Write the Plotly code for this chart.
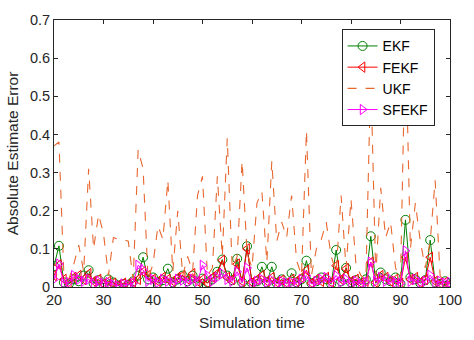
import plotly.graph_objects as go

# Simulation time steps
time = list(range(20, 101))

# Absolute estimate error per filter
ekf = [0.055, 0.108, 0.012, 0.008, 0.02, 0.015, 0.03, 0.044, 0.01, 0.018,
       0.006, 0.02, 0.012, 0.004, 0.008, 0.006, 0.015, 0.03, 0.078, 0.02,
       0.025, 0.01, 0.018, 0.048, 0.012, 0.02, 0.03, 0.015, 0.03, 0.01,
       0.022, 0.012, 0.02, 0.04, 0.072, 0.03, 0.018, 0.074, 0.012, 0.107,
       0.01, 0.015, 0.053, 0.012, 0.053, 0.01, 0.02, 0.008, 0.036, 0.012,
       0.02, 0.069, 0.01, 0.015, 0.025, 0.02, 0.008, 0.097, 0.015, 0.05,
       0.012, 0.018, 0.006, 0.02, 0.133, 0.01, 0.038, 0.02, 0.015, 0.025,
       0.008, 0.176, 0.025, 0.02, 0.01, 0.018, 0.123, 0.012, 0.008, 0.015,
       0.01]

fekf = [0.03, 0.058, 0.02, 0.01, 0.025, 0.03, 0.02, 0.035, 0.015, 0.02,
        0.008, 0.015, 0.01, 0.005, 0.01, 0.008, 0.012, 0.02, 0.04, 0.03,
        0.02, 0.015, 0.025, 0.02, 0.015, 0.025, 0.03, 0.02, 0.035, 0.015,
        0.02, 0.01, 0.025, 0.035, 0.07, 0.025, 0.02, 0.06, 0.015, 0.1,
        0.012, 0.02, 0.03, 0.015, 0.025, 0.012, 0.018, 0.01, 0.02, 0.015,
        0.025, 0.044, 0.01, 0.02, 0.015, 0.025, 0.012, 0.056, 0.02, 0.048,
        0.015, 0.02, 0.01, 0.015, 0.065, 0.012, 0.03, 0.025, 0.015, 0.02,
        0.01, 0.078, 0.02, 0.025, 0.012, 0.02, 0.078, 0.015, 0.01, 0.012,
        0.008]

ukf = [0.37, 0.38, 0.03, 0.02, 0.06, 0.11, 0.04, 0.31, 0.10, 0.19,
       0.14, 0.03, 0.13, 0.125, 0.125, 0.12, 0.02, 0.36, 0.31, 0.02,
       0.06, 0.16, 0.125, 0.28, 0.04, 0.20, 0.03, 0.08, 0.04, 0.24,
       0.29, 0.03, 0.05, 0.29, 0.08, 0.39, 0.05, 0.08, 0.33, 0.09,
       0.05, 0.22, 0.25, 0.065, 0.33, 0.12, 0.17, 0.13, 0.24, 0.07,
       0.03, 0.41, 0.03, 0.10, 0.125, 0.17, 0.08, 0.04, 0.24, 0.05,
       0.23, 0.06, 0.03, 0.02, 0.56, 0.03, 0.26, 0.13, 0.17, 0.05,
       0.02, 0.67, 0.10, 0.22, 0.12, 0.05, 0.12, 0.28, 0.03, 0.01,
       0.01]

sfekf = [0.02, 0.06, 0.01, 0.012, 0.03, 0.02, 0.015, 0.02, 0.008, 0.015,
         0.01, 0.012, 0.006, 0.003, 0.008, 0.005, 0.01, 0.057, 0.045, 0.015,
         0.02, 0.012, 0.02, 0.015, 0.01, 0.02, 0.018, 0.012, 0.02, 0.015,
         0.057, 0.03, 0.015, 0.025, 0.035, 0.02, 0.015, 0.04, 0.012, 0.05,
         0.01, 0.015, 0.02, 0.012, 0.018, 0.008, 0.015, 0.01, 0.012, 0.01,
         0.02, 0.03, 0.008, 0.015, 0.02, 0.025, 0.01, 0.03, 0.012, 0.02,
         0.01, 0.015, 0.008, 0.012, 0.065, 0.015, 0.025, 0.015, 0.02, 0.012,
         0.01, 0.095, 0.015, 0.02, 0.012, 0.015, 0.031, 0.01, 0.015, 0.01,
         0.012]

x_ticks = [20, 30, 40, 50, 60, 70, 80, 90, 100]
y_ticks = [0, 0.1, 0.2, 0.3, 0.4, 0.5, 0.6, 0.7]
y_tick_labels = ["0", "0.1", "0.2", "0.3", "0.4", "0.5", "0.6", "0.7"]

FONT = "Liberation Sans, Arial, sans-serif"
INK = "#262626"

fig = go.Figure()

fig.add_trace(go.Scatter(
    x=time, y=ekf, name="EKF", mode="lines+markers",
    line=dict(color="#008000", width=1),
    marker=dict(symbol="circle-open", size=9, color="#008000", line=dict(width=1)),
))
fig.add_trace(go.Scatter(
    x=time, y=fekf, name="FEKF", mode="lines+markers",
    line=dict(color="#ff0000", width=1),
    marker=dict(symbol="triangle-left-open", size=9, color="#ff0000", line=dict(width=1)),
))
fig.add_trace(go.Scatter(
    x=time, y=ukf, name="UKF", mode="lines",
    line=dict(color="#e8672f", width=1.1, dash="dash"),
))
fig.add_trace(go.Scatter(
    x=time, y=sfekf, name="SFEKF", mode="lines+markers",
    line=dict(color="#ff00ff", width=1),
    marker=dict(symbol="triangle-right-open", size=9, color="#ff00ff", line=dict(width=1)),
))

axis_common = dict(
    showline=True, linecolor=INK, linewidth=1, mirror="ticks",
    ticks="inside", ticklen=4, tickcolor=INK, tickwidth=1,
    showgrid=False, zeroline=False,
    tickfont=dict(family=FONT, size=14.5, color=INK),
)

fig.update_layout(
    width=474, height=340,
    margin=dict(l=53, r=17, t=14, b=51),
    paper_bgcolor="white", plot_bgcolor="white",
    font=dict(family=FONT, size=14, color=INK),
    showlegend=True,
    legend=dict(
        x=0.961, y=0.965, xanchor="right", yanchor="top",
        bgcolor="white", bordercolor=INK, borderwidth=1,
        font=dict(family=FONT, size=14, color="black"),
        tracegroupgap=0, itemwidth=30,
    ),
    xaxis=dict(
        range=[20, 100], tickvals=x_ticks,
        title=dict(text="Simulation time", font=dict(family=FONT, size=15.5, color=INK), standoff=9),
        **axis_common,
    ),
    yaxis=dict(
        range=[0, 0.7], tickvals=y_ticks, ticktext=y_tick_labels,
        title=dict(text="Absolute Estimate Error", font=dict(family=FONT, size=15.5, color=INK), standoff=7),
        **axis_common,
    ),
)

fig.write_html("out.html")
